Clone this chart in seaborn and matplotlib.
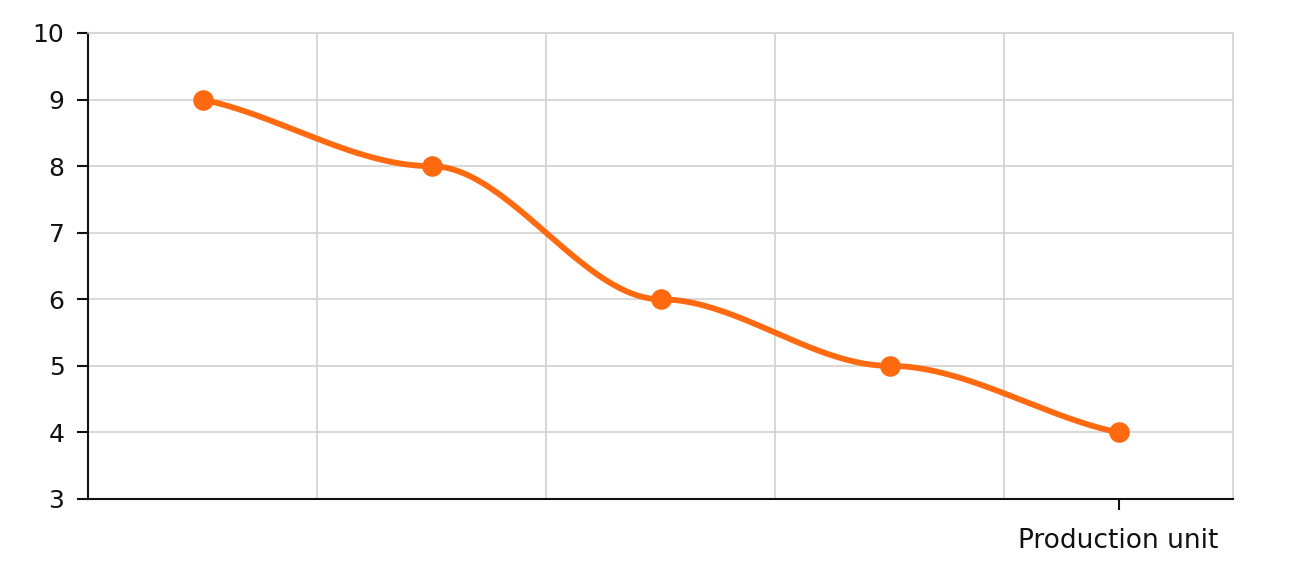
import numpy as np
import pandas as pd
import seaborn as sns
import matplotlib
matplotlib.use("Agg")
import matplotlib.pyplot as plt
from matplotlib.ticker import FixedLocator

# data
units = [0, 1, 2, 3, 4]
values = [9, 8, 6, 5, 4]
x_tick_pos = [4]
x_tick_labels = ["Production unit"]
y_ticks = [3, 4, 5, 6, 7, 8, 9, 10]

LINE = "#ff6a10"
GRID = "#d2d2d2"
INK = "#111111"


def smooth_path(xs, ys, n=80):
    # cubic hermite pieces: flat tangents at the inner points, leaning at the ends
    xs = np.asarray(xs, float)
    ys = np.asarray(ys, float)
    m = np.zeros(len(xs))
    m[0] = 0.7 * (ys[1] - ys[0]) / (xs[1] - xs[0])
    m[-1] = 0.7 * (ys[-1] - ys[-2]) / (xs[-1] - xs[-2])
    px, py = [], []
    for i in range(len(xs) - 1):
        h = xs[i + 1] - xs[i]
        t = np.linspace(0, 1, n)
        h00 = 2 * t**3 - 3 * t**2 + 1
        h10 = t**3 - 2 * t**2 + t
        h01 = -2 * t**3 + 3 * t**2
        h11 = t**3 - t**2
        px.append(xs[i] + t * h)
        py.append(h00 * ys[i] + h10 * h * m[i] + h01 * ys[i + 1] + h11 * h * m[i + 1])
    return pd.DataFrame({"x": np.concatenate(px), "y": np.concatenate(py)})


sns.set_style("white")
plt.rcParams["font.family"] = ["DejaVu Sans"]

fig = plt.figure(figsize=(12.9, 5.72), dpi=100)
ax = fig.add_axes([88 / 1290, (572 - 499) / 572, (1233 - 88) / 1290, (499 - 33) / 572])

curve = smooth_path(units, values)
sns.lineplot(data=curve, x="x", y="y", ax=ax, color=LINE, linewidth=4.2,
             sort=False, estimator=None, zorder=3)
pts = pd.DataFrame({"unit": units, "value": values})
sns.scatterplot(data=pts, x="unit", y="value", ax=ax, color=LINE, s=220,
                linewidth=0, zorder=4)

ax.set_xlim(-0.5, len(units) - 0.5)
ax.set_ylim(min(y_ticks), max(y_ticks))
ax.set_yticks(y_ticks)
ax.set_xticks(x_tick_pos)
ax.set_xticklabels(x_tick_labels)
ax.xaxis.set_minor_locator(FixedLocator([u + 0.5 for u in units[:-1]]))

ax.grid(False)
ax.yaxis.grid(True, color=GRID, linewidth=1.2)
ax.xaxis.grid(True, which="minor", color=GRID, linewidth=1.2)
ax.set_axisbelow(True)

ax.tick_params(axis="both", which="major", direction="out", length=8, width=1.5,
               color=INK, labelsize=18, labelcolor=INK, left=True, bottom=True)
ax.tick_params(axis="x", which="major", pad=13, labelsize=19)
ax.tick_params(axis="y", which="major", pad=9)
ax.tick_params(axis="x", which="minor", length=0)

for side in ["left", "bottom"]:
    ax.spines[side].set_color(INK)
    ax.spines[side].set_linewidth(1.5)
for side in ["top", "right"]:
    ax.spines[side].set_visible(True)
    ax.spines[side].set_color(GRID)
    ax.spines[side].set_linewidth(1.2)

ax.set_xlabel("")
ax.set_ylabel("")

fig.savefig("out.png", dpi=100)
